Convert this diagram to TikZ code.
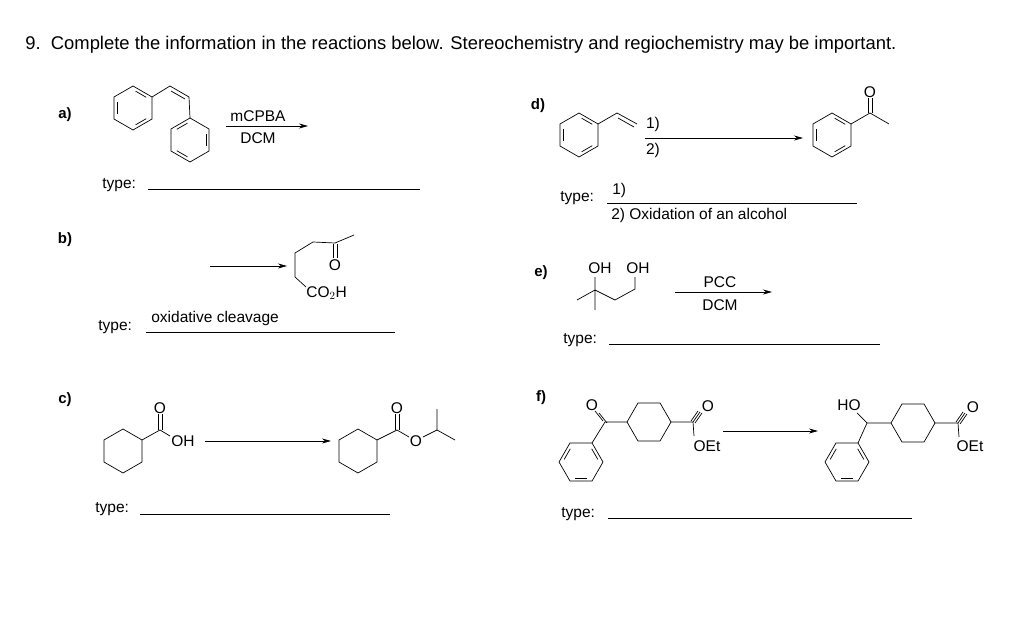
\documentclass[tikz,border=0pt]{standalone}
\usepackage{fontspec}
\setmainfont{Liberation Sans}
\usetikzlibrary{arrows.meta}
\newcommand\ring[3]{\draw ({#1+22*cos(#3)},{#2-22*sin(#3)}) \foreach \k in {1,...,5}{ -- ({#1+22*cos(#3+60*\k)},{#2-22*sin(#3+60*\k)})} -- cycle;}
\newcommand\dbl[4]{\foreach \k in {0,2,4}{\draw ({#1+17*cos(#3+60*\k+#4+9)},{#2-17*sin(#3+60*\k+#4+9)}) -- ({#1+17*cos(#3+60*\k+#4+51)},{#2-17*sin(#3+60*\k+#4+51)});}}
\begin{document}
\begin{tikzpicture}[x=1pt,y=-1pt,line width=0.7pt,
  txt/.style={inner sep=0pt,font=\fontsize{15.5}{17}\selectfont},
  lab/.style={inner sep=0pt,font=\bfseries\fontsize{15}{17}\selectfont},
  arr/.style={-{Stealth[length=9pt,width=5pt]},line width=0.7pt},
  rule/.style={line width=0.6pt}]
\useasboundingbox[fill=white] (0,0) rectangle (1024,620);
\node[txt,anchor=west,font=\fontsize{18.4}{20}\selectfont] (title) at (25,45) {9.\ \ Complete the information in the reactions below. Stereochemistry and regiochemistry may be important.};
% a
\node[lab] (la) at (65,115) {a)};
\ring{133}{108}{30}\dbl{133}{108}{30}{0}
\ring{190}{140}{30}\dbl{190}{140}{30}{60}
\draw (152,97) -- (170,86) -- (189,97) -- (190,118);
\draw (171,91) -- (185,99);
\coordinate (a1) at (226,126); \coordinate (a2) at (308,126);
\draw[arr] (a1) -- (a2);
\node[txt] (ma) at (258,116) {mCPBA};
\node[txt] (da) at (258,138) {DCM};
\node[txt,anchor=west] (ta) at (102,185) {type:};
\coordinate (ra1) at (148,189); \coordinate (ra2) at (420,189);
\draw[rule] (ra1) -- (ra2);
% b
\node[lab] (lb) at (65,240) {b)};
\coordinate (b1) at (210,266); \coordinate (b2) at (287,266);
\draw[arr] (b1) -- (b2);
\draw (354,235) -- (335,243) -- (313,242) -- (295,253) -- (295,277) -- (306,287);
\draw (333,244) -- (333,258) (337,244) -- (337,258);
\node[txt] (ob) at (335,265) {O};
\node[txt,anchor=west] (co) at (306,293) {CO$_2$H};
\node[txt,anchor=west] (tb) at (98,327) {type:};
\node[txt,anchor=west] (oc) at (151,318) {oxidative cleavage};
\coordinate (rb1) at (146,332); \coordinate (rb2) at (395,332);
\draw[rule] (rb1) -- (rb2);
% c
\node[lab] (lc) at (65,400) {c)};
\ring{123}{451}{30}
\draw (142,440) -- (160,430) -- (170,436);
\draw (158,430) -- (158,414) (162,430) -- (162,414);
\node[txt] (oc1) at (160,408) {O};
\node[txt,anchor=west] (ohc) at (171,441) {OH};
\coordinate (c1) at (205,441); \coordinate (c2) at (331,441);
\draw[arr] (c1) -- (c2);
\ring{358}{451}{30}
\draw (377,440) -- (397,430) -- (409,437) (423,437) -- (437,430) -- (437,409) (437,430) -- (455,440);
\draw (395,430) -- (395,414) (399,430) -- (399,414);
\node[txt] (oc2) at (397,408) {O};
\node[txt] (oc3) at (416,441) {O};
\node[txt,anchor=west] (tc) at (95,509) {type:};
\coordinate (rc1) at (140,514); \coordinate (rc2) at (390,514);
\draw[rule] (rc1) -- (rc2);
% d
\node[lab] (ld) at (538,106) {d)};
\ring{579}{135}{30}\dbl{579}{135}{30}{0}
\draw (598,124) -- (617,113) -- (637,124);
\draw (618,118) -- (634,127);
\node[txt] (d1) at (653,124) {1)};
\node[txt] (d2) at (653,150) {2)};
\coordinate (d3) at (645,138); \coordinate (d4) at (803,138);
\draw[arr] (d3) -- (d4);
\ring{832}{135}{30}\dbl{832}{135}{30}{0}
\draw (851,124) -- (870,113) -- (889,124);
\draw (868,113) -- (868,98) (872,113) -- (872,98);
\node[txt] (od) at (870,92) {O};
\node[txt,anchor=west] (td) at (560,198) {type:};
\node[txt,anchor=west] (d5) at (612,190) {1)};
\coordinate (rd1) at (607,203); \coordinate (rd2) at (857,203);
\draw[rule] (rd1) -- (rd2);
\node[txt,anchor=west] (d6) at (611,215) {2) Oxidation of an alcohol};
% e
\node[lab] (le) at (541,273) {e)};
\node[txt] (oh1) at (600,268) {OH};
\node[txt] (oh2) at (638,268) {OH};
\draw (595,277) -- (595,310) (577,300) -- (595,290) -- (615,300) -- (635,289) -- (635,277);
\coordinate (e1) at (675,292); \coordinate (e2) at (772,292);
\draw[arr] (e1) -- (e2);
\node[txt] (pcc) at (720,282) {PCC};
\node[txt] (dcm) at (720,305) {DCM};
\node[txt,anchor=west] (te) at (563,340) {type:};
\coordinate (re1) at (609,344); \coordinate (re2) at (880,344);
\draw[rule] (re1) -- (re2);
% f
\node[lab] (lf) at (541,398) {f)};
\ring{581}{462}{0}\dbl{581}{462}{0}{0}
\draw (592,443) -- (605,422) -- (627,422);
\draw (603,421) -- (595,411) (607,423) -- (599,413);
\node[txt] (of1) at (592,405) {O};
\ring{649}{422}{0}
\draw (671,422) -- (693,422) -- (700,412) (693,422) -- (694,436);
\draw (691,421) -- (698,411) (695,423) -- (702,413);
\node[txt] (of2) at (708,406) {O};
\node[txt] (oet1) at (707,446) {OEt};
\coordinate (f1) at (723,431); \coordinate (f2) at (818,431);
\draw[arr] (f1) -- (f2);
\node[txt] (ho) at (849,405) {HO};
\draw (857,413) -- (867,423) -- (891,423) (867,423) -- (858,443);
\ring{847}{462}{0}\dbl{847}{462}{0}{0}
\ring{913}{423}{0}
\draw (935,423) -- (958,423) -- (965,413) (958,423) -- (959,437);
\draw (956,422) -- (963,412) (960,424) -- (967,414);
\node[txt] (of3) at (973,407) {O};
\node[txt] (oet2) at (970,446) {OEt};
\node[txt,anchor=west] (tf) at (561,514) {type:};
\coordinate (rf1) at (608,518); \coordinate (rf2) at (912,518);
\draw[rule] (rf1) -- (rf2);
\end{tikzpicture}
\end{document}
